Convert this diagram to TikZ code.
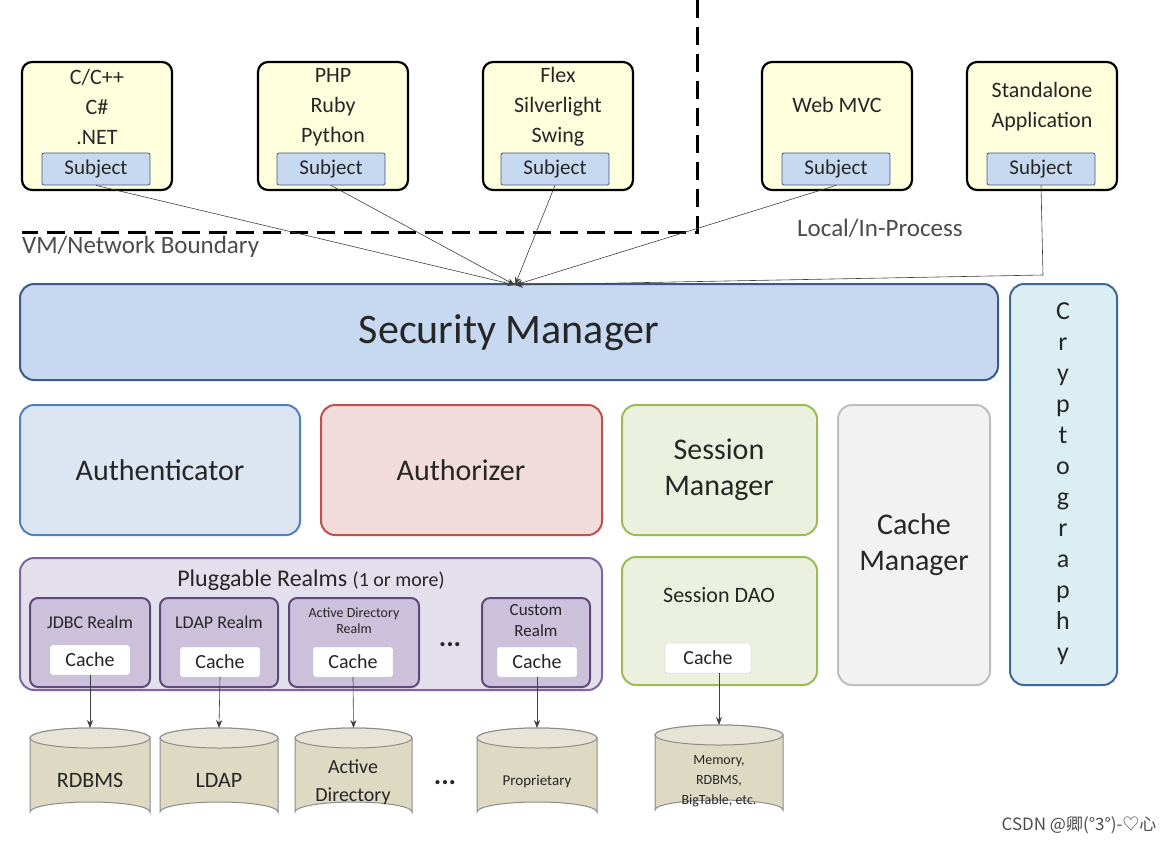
\documentclass[tikz,border=0pt]{standalone}
\usepackage{fontspec}
\setmainfont{Carlito}
\newfontfamily\cjk{Noto Sans CJK SC}
\usetikzlibrary{arrows.meta}
\definecolor{cy}{HTML}{FFFFDD}
\definecolor{sb}{HTML}{C6D9F1}
\definecolor{sbd}{HTML}{3A5A85}
\definecolor{cr}{HTML}{DAEEF3}
\definecolor{au}{HTML}{DCE6F2}
\definecolor{aub}{HTML}{4F81BD}
\definecolor{az}{HTML}{F2DCDB}
\definecolor{azb}{HTML}{C0504D}
\definecolor{sm}{HTML}{EBF1DE}
\definecolor{smb}{HTML}{9BBB59}
\definecolor{cm}{HTML}{F2F2F2}
\definecolor{cmb}{HTML}{BFBFBF}
\definecolor{pr}{HTML}{E4DFEC}
\definecolor{prb}{HTML}{8064A2}
\definecolor{rl}{HTML}{CCC0DA}
\definecolor{rlb}{HTML}{5F497A}
\definecolor{db}{HTML}{DDD9C3}
\definecolor{dbb}{HTML}{8C8C8C}
\definecolor{tx}{HTML}{262626}
\begin{document}
\begin{tikzpicture}[x=1pt,y=-1pt,
  client/.style={draw=black,line width=2.2pt,fill=cy,rounded corners=10pt},
  subj/.style={draw=sbd,line width=0.8pt,fill=sb,rounded corners=2pt,inner sep=0pt,minimum width=108pt,minimum height=32pt,font=\fontsize{21}{22}\selectfont,text=tx},
  ctext/.style={font=\fontsize{22}{30}\selectfont,text=tx,align=center},
  big/.style={rounded corners=14pt,line width=2pt},
  lbl/.style={font=\fontsize{30}{36}\selectfont,text=tx,align=center},
  realm/.style={draw=rlb,line width=2pt,fill=rl,rounded corners=8pt},
  cache/.style={draw=cmb,fill=white,rounded corners=2pt,inner sep=0pt,minimum width=86pt,minimum height=30pt,font=\fontsize{20}{22}\selectfont,text=tx},
  arr/.style={-{Stealth[length=8pt,width=6pt]},line width=0.6pt,draw=black!75},
  dbl/.style={font=\fontsize{22}{24}\selectfont,text=tx,align=center}]
\useasboundingbox[fill=white] (0,0) rectangle (1173,844);
% clients
\draw[client] (22,62) rectangle (172,190);
\node[ctext] (t1) at (97,107) {C/C++\\C\#\\.NET};
\node[subj] (s1) at (96,169) {Subject};
\draw[client] (258,62) rectangle (408,190);
\node[ctext] (t2) at (333,107) {PHP\\Ruby\\Python};
\node[subj] (s2) at (331,169) {Subject};
\draw[client] (483,62) rectangle (633,190);
\node[ctext] (t3) at (558,107) {Flex\\Silverlight\\Swing};
\node[subj] (s3) at (555,169) {Subject};
\draw[client] (762,62) rectangle (912,190);
\node[ctext] (t4) at (837,105) {Web MVC};
\node[subj] (s4) at (836,169) {Subject};
\draw[client] (967,62) rectangle (1117,190);
\node[ctext] (t5) at (1042,107) {Standalone\\Application};
\node[subj] (s5) at (1041,169) {Subject};
% boundary
\draw[line width=3pt,dash pattern=on 18pt off 9pt] (697,0) -- (697,232) -- (22,232);
\node[anchor=west,font=\fontsize{25}{28}\selectfont,text=black!70,inner sep=0pt] (vm) at (22,247) {VM/Network Boundary};
\node[anchor=west,font=\fontsize{25}{28}\selectfont,text=black!70,inner sep=0pt] (lp) at (797,228) {Local/In-Process};
% security manager
\draw[big,draw=sbd,fill=sb] (20,284) rectangle (998,380);
\node[font=\fontsize{42}{48}\selectfont,text=tx] (sm) at (509,333) {Security Manager};
\coordinate (tgt) at (515,285);
\draw[arr] (s1.south) -- (tgt);
\draw[arr] (s2.south) -- (tgt);
\draw[arr] (s3.south) -- (tgt);
\draw[arr] (s4.south) -- (tgt);
\draw[arr] (s5.south) -- (1043,275) -- (tgt);
% cryptography
\draw[big,draw=aub!80!black,fill=cr] (1010,284) rectangle (1117,685);
\node[font=\fontsize{26}{31}\selectfont,text=tx,align=center] (cry) at (1063,484) {C\\r\\y\\p\\t\\o\\g\\r\\a\\p\\h\\y};
% second row
\draw[big,draw=aub,fill=au] (20,405) rectangle (300,535);
\node[lbl] (ath) at (160,470) {Authenticator};
\draw[big,draw=azb,fill=az] (321,405) rectangle (602,535);
\node[lbl] (atz) at (461,470) {Authorizer};
\draw[big,draw=smb,fill=sm] (622,405) rectangle (817,535);
\node[lbl] (ses) at (719,470) {Session\\Manager};
\draw[big,draw=cmb,fill=cm] (838,405) rectangle (990,685);
\node[lbl] (cmg) at (914,545) {Cache\\Manager};
% realms
\draw[big,draw=prb,fill=pr] (20,558) rectangle (602,690);
\node[font=\fontsize{24}{26}\selectfont,text=tx] (plr) at (311,580) {Pluggable Realms {\fontsize{20}{22}\selectfont(1 or more)}};
\draw[realm] (30,598) rectangle (150,687);
\node[font=\fontsize{18}{20}\selectfont,text=tx] (r1) at (90,622) {JDBC Realm};
\node[cache,minimum width=80pt] (c1) at (90,660) {Cache};
\draw[realm] (160,598) rectangle (278,687);
\node[font=\fontsize{18}{20}\selectfont,text=tx] (r2) at (219,622) {LDAP Realm};
\node[cache,minimum width=80pt] (c2) at (220,662) {Cache};
\draw[realm] (289,598) rectangle (419,687);
\node[font=\fontsize{14}{16}\selectfont,text=tx,align=center] (r3) at (354,621) {Active Directory\\Realm};
\node[cache,minimum width=80pt] (c3) at (353,662) {Cache};
\node[font=\fontsize{28}{30}\selectfont\bfseries,text=tx] (dots1) at (450,645) {...};
\draw[realm] (482,598) rectangle (590,687);
\node[font=\fontsize{17}{21}\selectfont,text=tx,align=center] (r4) at (536,621) {Custom\\Realm};
\node[cache,minimum width=80pt] (c4) at (537,662) {Cache};
% session dao
\draw[big,draw=smb,fill=sm] (622,557) rectangle (817,685);
\node[font=\fontsize{22}{24}\selectfont,text=tx] (sdao) at (719,595) {Session DAO};
\node[cache] (c5) at (708,658) {Cache};
% databases
\foreach \n/\xa/\xb/\ya/\yb in {d1/30/150/728/822, d2/160/278/728/822, d3/295/412/728/822, d4/477/597/728/822, d5/655/783/725/820}{
  \pgfmathsetmacro\cx{(\xa+\xb)/2}
  \pgfmathsetmacro\rx{(\xb-\xa)/2}
  \draw[draw=dbb,fill=db,line width=1pt] (\xa,\ya+10) -- (\xa,\yb-10) arc[start angle=180,end angle=360,x radius=\rx,y radius=10] -- (\xb,\ya+10) arc[start angle=0,end angle=-180,x radius=\rx,y radius=10];
  \draw[draw=dbb,fill=db!70!white,line width=1pt] (\cx,\ya+10) ellipse[x radius=\rx,y radius=10];
  \coordinate (\n) at (\cx,\ya);
}
\node[dbl] (l1) at (90,780) {RDBMS};
\node[dbl] (l2) at (219,780) {LDAP};
\node[dbl,font=\fontsize{20}{28}\selectfont] (l3) at (353,782) {Active\\Directory};
\node[font=\fontsize{28}{30}\selectfont\bfseries,text=tx] (dots2) at (445,783) {...};
\node[font=\fontsize{15}{17}\selectfont,text=tx] (l4) at (537,782) {Proprietary};
\node[font=\fontsize{14}{20}\selectfont,text=tx,align=center] (l5) at (719,781) {Memory,\\RDBMS,\\BigTable, etc.};
\draw[arr] (c1.south) -- (d1);
\draw[arr] (c2.south) -- (d2);
\draw[arr] (c3.south) -- (d3);
\draw[arr] (c4.south) -- (d4);
\draw[arr] (c5.south -| d5) -- (d5);
\node[anchor=east,font=\cjk\fontsize{17}{18}\selectfont,text=black!70] (wm) at (1160,825) {CSDN @卿(°3°)-♡心};
\end{tikzpicture}
\end{document}
